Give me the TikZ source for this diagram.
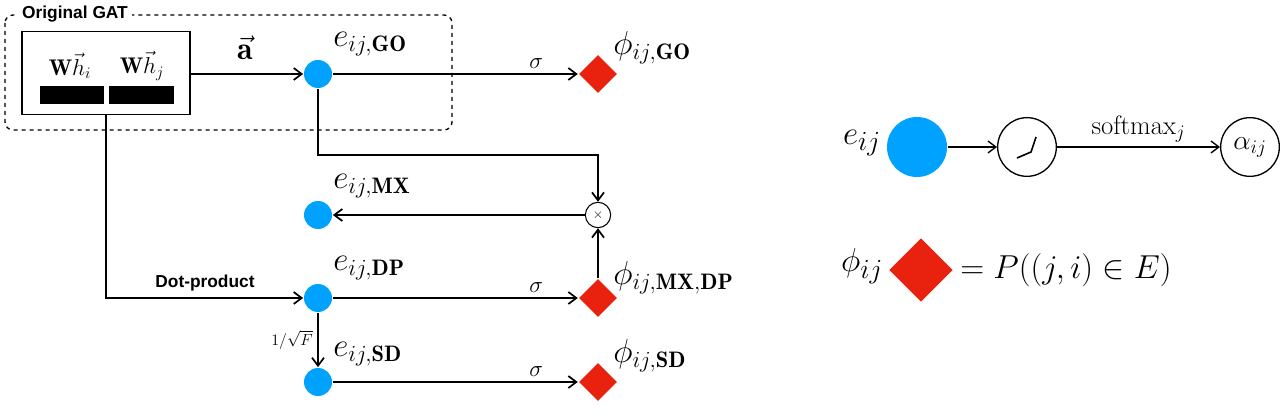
\documentclass[tikz,border=0pt]{standalone}
\usepackage{fontspec}
\newfontfamily\sansf{Liberation Sans}
\usetikzlibrary{shapes.geometric,arrows.meta}
\definecolor{bl}{HTML}{00A2FF}
\definecolor{rd}{HTML}{E8220F}
\begin{document}
\begin{tikzpicture}[x=0.75pt,y=-0.75pt,
  line width=1.3pt,
  arr/.style={-{Straight Barb[length=6pt,width=9pt]}},
  blue/.style={circle,fill=bl,minimum size=21pt,inner sep=0},
  red/.style={diamond,fill=rd,minimum size=29pt,inner sep=0},
  op/.style={circle,draw,line width=0.8pt,minimum size=19pt,inner sep=0},
  lab/.style={font=\fontsize{24}{24}\selectfont},
  sig/.style={font=\fontsize{17}{17}\selectfont}]
\useasboundingbox (0,0) rectangle (1280,420);
\draw[dashed,line width=1pt,rounded corners=6pt] (5,15) rectangle (452,130);
\node[fill=white,font=\sansf\bfseries\fontsize{13}{13}\selectfont] (gat) at (75,14) {Original GAT};
\node[draw,line width=1pt,minimum width=126pt,minimum height=62pt] (box) at (106,73) {};
\node[font=\fontsize{17}{17}\selectfont,inner sep=0] (wi) at (70,66) {$\mathbf{W}\vec{h}_i$};
\node[font=\fontsize{17}{17}\selectfont,inner sep=0] (wj) at (142,66) {$\mathbf{W}\vec{h}_j$};
\fill (40,86) rectangle (104,104);
\fill (109,86) rectangle (174,104);
\node[blue] (go) at (318,74) {};
\node[lab,anchor=west] at (328,44) {$e_{ij,\mathbf{GO}}$};
\node[lab] at (245,48) {$\vec{\mathbf{a}}$};
\draw[arr] (box.east |- go) -- (go);
\node[red] (pgo) at (598,74) {};
\node[lab,anchor=west] at (608,48) {$\phi_{ij,\mathbf{GO}}$};
\draw[arr] (go) -- (pgo) node[sig,pos=0.83,above] {$\sigma$};
\node[op] (x) at (598,215) {$\times$};
\coordinate (c1) at (318,155);
\draw[arr] (go) -- (c1) -| (x);
\node[blue] (mx) at (318,215) {};
\node[lab,anchor=west] at (328,186) {$e_{ij,\mathbf{MX}}$};
\draw[arr] (x) -- (mx);
\node[red] (pdp) at (598,298) {};
\node[lab,anchor=west] at (608,278) {$\phi_{ij,\mathbf{MX},\mathbf{DP}}$};
\draw[arr] (pdp) -- (x);
\node[blue] (dp) at (318,298) {};
\node[lab,anchor=west] at (328,268) {$e_{ij,\mathbf{DP}}$};
\coordinate (c2) at (106,298);
\draw[arr] (box.south) -- (c2) -- (dp);
\node[font=\sansf\bfseries\fontsize{13}{13}\selectfont] at (205,283) {Dot-product};
\draw[arr] (dp) -- (pdp) node[sig,pos=0.83,above] {$\sigma$};
\node[blue] (sd) at (318,382) {};
\node[lab,anchor=west] at (328,354) {$e_{ij,\mathbf{SD}}$};
\draw[arr] (dp) -- (sd) node[midway,left,font=\fontsize{13}{13}\selectfont] {$1/\sqrt{F}$};
\node[red] (psd) at (598,382) {};
\node[lab,anchor=west] at (608,356) {$\phi_{ij,\mathbf{SD}}$};
\draw[arr] (sd) -- (psd) node[sig,pos=0.83,above] {$\sigma$};
% legend
\node[font=\fontsize{32}{32}\selectfont] at (862,143) {$e_{ij}$};
\node[blue,minimum size=45pt] (le) at (917,147) {};
\node[op,minimum size=44pt,line width=1pt] (relu) at (1027,147) {};
\draw[line width=1.2pt] (1017,158) -- (1031,152) -- (1036,137);
\node[op,minimum size=44pt,line width=1pt,font=\fontsize{22}{22}\selectfont] (al) at (1250,147) {$\alpha_{ij}$};
\draw[arr,line width=1pt] (le) -- (relu);
\draw[arr,line width=1pt] (relu) -- (al) node[midway,above,font=\fontsize{20}{20}\selectfont] {softmax$_j$};
\node[font=\fontsize{32}{32}\selectfont] at (862,266) {$\phi_{ij}$};
\node[red,minimum size=48pt] (ld) at (921,270) {};
\node[anchor=west,font=\fontsize{24}{24}\selectfont] at (955,270) {$= P((j,i)\in E)$};
\end{tikzpicture}
\end{document}
